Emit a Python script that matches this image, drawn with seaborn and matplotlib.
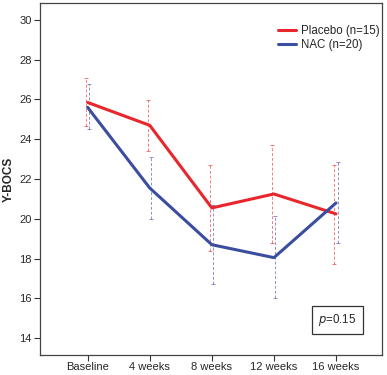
import numpy as np
import pandas as pd
import matplotlib
matplotlib.use("Agg")
import matplotlib.pyplot as plt
import seaborn as sns

# data
timepoints = ["Baseline", "4 weeks", "8 weeks", "12 weeks", "16 weeks"]
placebo_mean = [25.85, 24.7, 20.55, 21.25, 20.25]
placebo_low = [24.65, 23.4, 18.4, 18.8, 17.75]
placebo_high = [27.1, 25.95, 22.7, 23.7, 22.7]
nac_mean = [25.6, 21.55, 18.7, 18.05, 20.8]
nac_low = [24.5, 20.0, 16.75, 16.0, 18.8]
nac_high = [26.8, 23.1, 20.7, 20.15, 22.85]

red = "#e8262c"
blue = "#3a4d9f"

sns.set_style("white")
plt.rcParams['font.family'] = ['Liberation Sans', 'DejaVu Sans']

df = pd.DataFrame({
    "time": list(range(len(timepoints))) * 2,
    "ybocs": placebo_mean + nac_mean,
    "group": ["Placebo (n=15)"] * 5 + ["NAC (n=20)"] * 5,
})

fig, ax = plt.subplots(figsize=(3.87, 3.75), dpi=100)
fig.subplots_adjust(left=0.103, right=0.987, top=0.992, bottom=0.053)

x = np.arange(len(timepoints))
for mean, low, high, col, off in [(placebo_mean, placebo_low, placebo_high, red, -0.025),
                                  (nac_mean, nac_low, nac_high, blue, 0.025)]:
    mean = np.array(mean)
    err = [mean - np.array(low), np.array(high) - mean]
    eb = ax.errorbar(x + off, mean, yerr=err, fmt="none", ecolor=col, elinewidth=0.7,
                     capsize=1.2, capthick=0.7, alpha=0.6, zorder=1)
    eb[2][0].set_linestyle((0, (3, 2)))

sns.lineplot(data=df, x="time", y="ybocs", hue="group", palette=[red, blue],
             linewidth=2.2, ax=ax, zorder=3, legend=True)

ax.set_xlim(-0.77, 4.74)
ax.set_ylim(13.15, 30.85)
ax.set_xticks(x)
ax.set_xticklabels(timepoints)
ax.set_yticks(np.arange(14, 31, 2))
ax.tick_params(axis="y", labelsize=8, left=True, length=4, width=0.8, color="#333333", pad=2)
ax.tick_params(axis="x", labelsize=8, bottom=True, length=4, width=0.8, color="#333333", pad=1)
ax.set_xlabel("")
ax.set_ylabel("Y-BOCS", fontsize=8.5, fontweight="bold", labelpad=3)
for s in ax.spines.values():
    s.set_color("#444444")
    s.set_linewidth(0.9)

leg = ax.legend(loc="upper right", bbox_to_anchor=(1.0, 0.943), frameon=False, fontsize=8.3,
                handlelength=1.6, handletextpad=0.4, labelspacing=0.15, borderaxespad=0.0,
                borderpad=0.2)

ax.text(0.87, 0.0994, "$\\it{p}$=0.15", transform=ax.transAxes, fontsize=8.3,
        ha="center", va="center",
        bbox=dict(boxstyle="square,pad=0.55", facecolor="white", edgecolor="#333333", linewidth=0.9))

fig.savefig("out.png", dpi=100)
